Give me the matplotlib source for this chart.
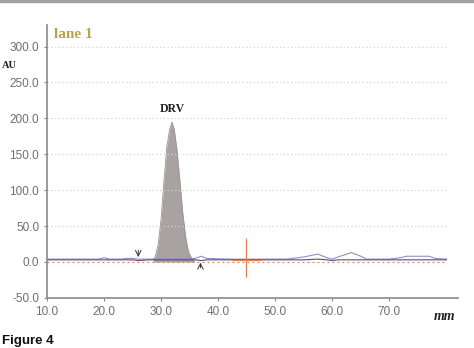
import numpy as np
import matplotlib.pyplot as plt
from matplotlib.patches import Rectangle

# peak profile of DRV (mm, AU)
peak_x = [28.6, 29.0, 29.5, 30.0, 30.5, 31.0, 31.5, 31.9, 32.3, 32.8, 33.3, 33.8, 34.3, 34.8, 35.3, 35.8]
peak_y = [3, 8, 25, 60, 112, 160, 185, 195, 185, 155, 112, 68, 35, 14, 6, 3]

# baseline traces
base_x = [10, 15, 19, 20, 21, 23, 24, 25, 26, 28, 36, 37, 38, 42, 46, 50, 52, 55, 57.5, 59, 60, 61, 63.3, 65, 66, 68, 70, 72, 73, 77, 78, 80]
trace1 = [4, 4, 4, 6, 4, 4, 5, 5, 4, 4, 5, 8, 5, 4, 4, 4, 4, 7, 11, 6, 4, 7, 13, 8, 4, 4, 4, 6, 8, 8, 5, 4]
trace2 = [3, 3, 3, 3, 3, 3, 3, 3, 2, 3, 3, 2, 3, 3, 3, 3, 3, 3, 4, 3, 2, 3, 3, 3, 3, 3, 3, 3, 3, 3, 3, 3]

grid_levels = [50, 100, 150, 200, 250, 300]
yticks = [-50, 0, 50, 100, 150, 200, 250, 300]
xticks = [10, 20, 30, 40, 50, 60, 70]

fig = plt.figure(figsize=(4.74, 3.48), dpi=100)
ax = fig.add_axes([0.099, 0.144, 0.867, 0.784])

# grid
ax.hlines(grid_levels, 10, 80, colors='#d4d4d4', linestyles=(0, (1, 2)), lw=0.9)
ax.hlines(0, 10, 80, colors='#e08060', linestyles=(0, (1.5, 2.5)), lw=0.9)

# peak
ax.fill_between(peak_x, 0, peak_y, color='#a8a2a2', lw=0)
ax.plot(peak_x, peak_y, color='#9a9494', lw=0.6)

ax.plot(base_x, trace1, color='#9a8ac8', lw=0.8)
ax.plot(base_x, trace2, color='#5a4a7a', lw=0.8)

# integration markers
ax.annotate('', xy=(26, 3), xytext=(26, 20),
            arrowprops=dict(arrowstyle='->', color='#333333', lw=0.7))
ax.annotate('', xy=(36.9, 3), xytext=(36.9, -12),
            arrowprops=dict(arrowstyle='->', color='#333333', lw=0.7))

# cursor
ax.vlines(44.9, -21, 33, colors='#e08050', lw=0.9)
ax.hlines(3, 42.5, 47.5, colors='#e08050', lw=0.9)

ax.set_xlim(10, 82)
ax.set_ylim(-50, 330)
ax.set_xticks(xticks)
ax.set_yticks(yticks)
ax.set_xticklabels([f'{v:.1f}' for v in xticks])
ax.set_yticklabels([f'{v:.1f}' for v in yticks])
ax.tick_params(labelsize=8.5, colors='#888888', labelcolor='#707070', length=2, width=0.8)
for lab in ax.get_xticklabels() + ax.get_yticklabels():
    lab.set_family('Liberation Sans')

for s in ['top', 'right']:
    ax.spines[s].set_visible(False)
for s in ['left', 'bottom']:
    ax.spines[s].set_color('#8a8a8a')
    ax.spines[s].set_linewidth(1.2)

ax.text(0.018, 0.99, 'lane 1', transform=ax.transAxes, family='Liberation Serif',
        fontsize=11, color='#b8a050', va='top', fontweight='bold')
ax.text(32, 205, 'DRV', family='Liberation Serif', fontsize=8.5, fontweight='bold',
        ha='center', va='bottom', color='#222222')
fig.text(0.005, 0.812, 'AU', family='Liberation Serif', fontsize=7.5, fontweight='bold',
         va='center', color='#222222')
fig.text(0.937, 0.09, 'mm', family='Liberation Serif', fontsize=10, fontweight='bold',
         ha='center', va='center', color='#222222', style='italic')
fig.text(0.005, 0.004, 'Figure 4', family='Liberation Sans', fontsize=9.5, fontweight='bold',
         va='bottom', color='#111111')

fig.patches.append(Rectangle((0, 0.993), 1, 0.007, transform=fig.transFigure,
                             color='#a0a0a0', zorder=5))

fig.savefig('out.png', dpi=100)
